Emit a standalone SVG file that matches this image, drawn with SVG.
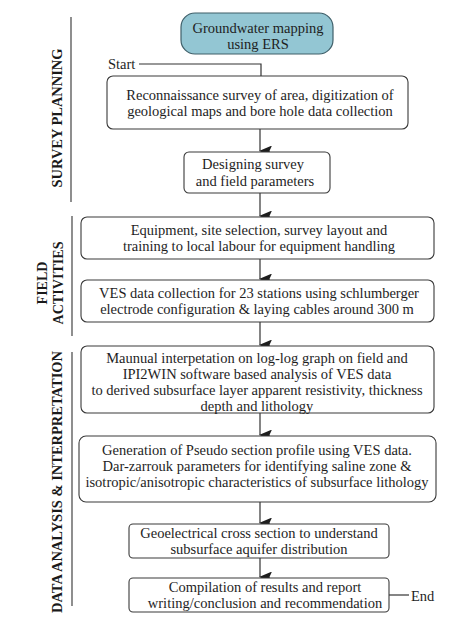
<svg xmlns="http://www.w3.org/2000/svg" width="474" height="628" viewBox="0 0 474 628">
<defs>
<style>
.box{fill:#fff;stroke:#3a3a3a;stroke-width:1.1}
text{font-family:'Liberation Serif','Times New Roman','DejaVu Serif',serif}
.t{font-size:14.5px;fill:#1e1e1e;text-anchor:middle}
.s{font-size:14px;font-weight:bold;fill:#1a1a1a;text-anchor:middle}
.ln{stroke:#333;stroke-width:1.2;fill:none}
.sep{stroke:#444;stroke-width:1.2}
</style>
<marker id="ah" viewBox="0 0 11 13" refX="5.5" refY="12" markerWidth="11" markerHeight="13" markerUnits="userSpaceOnUse" orient="auto">
<path d="M0,0 L5.5,2.5 L11,0 L5.5,13 Z" fill="#1e1e1e"/>
</marker>
</defs>
<rect width="474" height="628" fill="#fff"/>

<g id="lanes">
<line class="sep" x1="71" y1="17" x2="71" y2="202"/>
<text class="s" transform="translate(62,118) rotate(-90)" textLength="139" lengthAdjust="spacingAndGlyphs">SURVEY PLANNING</text>
<line class="sep" x1="72" y1="216" x2="72" y2="336"/>
<text class="s" transform="translate(47,283) rotate(-90)">FIELD</text>
<text class="s" transform="translate(63,283) rotate(-90)" textLength="83" lengthAdjust="spacingAndGlyphs">ACTIVITIES</text>
<line class="sep" x1="72" y1="352" x2="72" y2="606"/>
<text class="s" transform="translate(62,482) rotate(-90)" textLength="262" lengthAdjust="spacingAndGlyphs">DATA ANALYSIS &amp; INTERPRETATION</text>
</g>

<g id="connectors">
<text class="t" x="108" y="69" style="text-anchor:start">Start</text>
<polyline class="ln" points="139,64 261,64 261,76"/>
<line class="ln" x1="260" y1="129" x2="260" y2="151" marker-end="url(#ah)"/>
<line class="ln" x1="260" y1="193" x2="260" y2="216" marker-end="url(#ah)"/>
<line class="ln" x1="260" y1="259" x2="260" y2="279" marker-end="url(#ah)"/>
<line class="ln" x1="260" y1="322" x2="260" y2="345" marker-end="url(#ah)"/>
<line class="ln" x1="260" y1="413" x2="260" y2="435" marker-end="url(#ah)"/>
<line class="ln" x1="260" y1="502" x2="260" y2="523" marker-end="url(#ah)"/>
<line class="ln" x1="260" y1="558" x2="260" y2="577" marker-end="url(#ah)"/>
<line class="ln" x1="389" y1="595" x2="409" y2="595"/>
<text class="t" x="411" y="601" style="text-anchor:start">End</text>
</g>

<g id="n1">
<rect x="181" y="13" width="152" height="41" rx="14" fill="#93c6d3" stroke="#3f5f69" stroke-width="1.2"/>
<text class="t" x="258" y="33">Groundwater mapping</text>
<text class="t" x="258" y="49">using ERS</text>
</g>
<g id="n2">
<rect class="box" x="107" y="76" width="301" height="53" rx="6"/>
<text class="t" x="260" y="100">Reconnaissance survey of area, digitization of</text>
<text class="t" x="260" y="116">geological maps and bore hole data collection</text>
</g>
<g id="n3">
<rect class="box" x="184" y="152" width="146" height="41" rx="5"/>
<text class="t" x="253" y="169">Designing survey</text>
<text class="t" x="255" y="186">and field parameters</text>
</g>
<g id="n4">
<rect class="box" x="81" y="217" width="353" height="42" rx="6"/>
<text class="t" x="259" y="235">Equipment, site selection, survey layout and</text>
<text class="t" x="259" y="251">training to local labour for equipment handling</text>
</g>
<g id="n5">
<rect class="box" x="81" y="280" width="353" height="42" rx="6"/>
<text class="t" x="259" y="298">VES data collection for 23 stations using schlumberger</text>
<text class="t" x="257" y="314">electrode configuration &amp; laying cables around 300 m</text>
</g>
<g id="n6">
<rect class="box" x="81" y="346" width="353" height="67" rx="6"/>
<text class="t" x="257" y="363">Maunual interpetation on log-log graph on field and</text>
<text class="t" x="257" y="379">IPI2WIN software based analysis of VES data</text>
<text class="t" x="257" y="395">to derived subsurface layer apparent resistivity, thickness</text>
<text class="t" x="257" y="411">depth and lithology</text>
</g>
<g id="n7">
<rect class="box" x="79" y="436" width="357" height="66" rx="7"/>
<text class="t" x="257" y="455">Generation of Pseudo section profile using VES data.</text>
<text class="t" x="257" y="471">Dar-zarrouk parameters for identifying saline zone &amp;</text>
<text class="t" x="257" y="487">isotropic/anisotropic characteristics of subsurface lithology</text>
</g>
<g id="n8">
<rect class="box" x="129" y="524" width="260" height="34" rx="4"/>
<text class="t" x="259" y="538">Geoelectrical cross section to understand</text>
<text class="t" x="259" y="554">subsurface aquifer distribution</text>
</g>
<g id="n9">
<rect class="box" x="129" y="578" width="260" height="34" rx="4"/>
<text class="t" x="265" y="592">Compilation of results and report</text>
<text class="t" x="265" y="608">writing/conclusion and recommendation</text>
</g>
</svg>
